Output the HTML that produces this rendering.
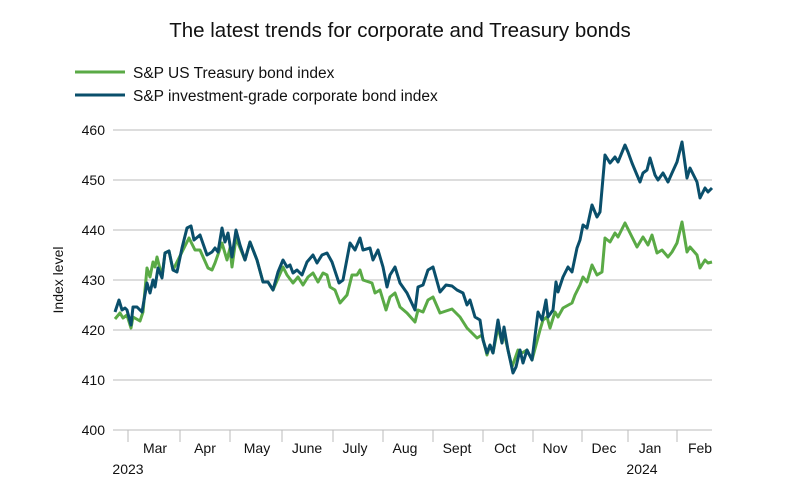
<!DOCTYPE html>
<html><head><meta charset="utf-8"><style>
body{margin:0;background:#fff;}
svg{display:block;font-family:"Liberation Sans",sans-serif;}
</style></head><body>
<svg width="800" height="495" viewBox="0 0 800 495">
<text x="400" y="37" text-anchor="middle" font-size="20.5" fill="#111">The latest trends for corporate and Treasury bonds</text>
<line x1="75" y1="72" x2="125" y2="72" stroke="#5aaa46" stroke-width="3"/>
<text x="133" y="78" font-size="15.5" fill="#111">S&amp;P US Treasury bond index</text>
<line x1="75" y1="95" x2="125" y2="95" stroke="#0a4f6b" stroke-width="3"/>
<text x="133" y="101" font-size="15.5" fill="#111">S&amp;P investment-grade corporate bond index</text>
<g stroke="#bbb" stroke-width="1">
<line x1="113" y1="130" x2="712" y2="130"/><line x1="113" y1="180" x2="712" y2="180"/>
<line x1="113" y1="230" x2="712" y2="230"/><line x1="113" y1="280" x2="712" y2="280"/>
<line x1="113" y1="330" x2="712" y2="330"/><line x1="113" y1="380" x2="712" y2="380"/>
<line x1="113" y1="430" x2="712" y2="430"/>
<line x1="128" y1="430" x2="128" y2="442"/><line x1="180" y1="430" x2="180" y2="442"/>
<line x1="230" y1="430" x2="230" y2="442"/><line x1="282" y1="430" x2="282" y2="442"/>
<line x1="333" y1="430" x2="333" y2="442"/><line x1="383" y1="430" x2="383" y2="442"/>
<line x1="433" y1="430" x2="433" y2="442"/><line x1="483" y1="430" x2="483" y2="442"/>
<line x1="533" y1="430" x2="533" y2="442"/><line x1="582" y1="430" x2="582" y2="442"/>
<line x1="628" y1="430" x2="628" y2="442"/><line x1="677" y1="430" x2="677" y2="442"/>
</g>
<g font-size="14" fill="#111" text-anchor="end">
<text x="105" y="135">460</text><text x="105" y="185">450</text><text x="105" y="235">440</text>
<text x="105" y="285">430</text><text x="105" y="335">420</text><text x="105" y="385">410</text>
<text x="105" y="435">400</text></g>
<g font-size="14" fill="#111" text-anchor="middle">
<text x="155" y="453">Mar</text><text x="205" y="453">Apr</text><text x="257" y="453">May</text>
<text x="307" y="453">June</text><text x="355" y="453">July</text><text x="405" y="453">Aug</text>
<text x="457" y="453">Sept</text><text x="505" y="453">Oct</text><text x="555" y="453">Nov</text>
<text x="604" y="453">Dec</text><text x="650" y="453">Jan</text><text x="700" y="453">Feb</text>
<text x="128" y="474">2023</text><text x="642" y="474">2024</text></g>
<text transform="translate(63,280) rotate(-90)" font-size="14" text-anchor="middle" fill="#111">Index level</text>
<polyline fill="none" stroke="#5aaa46" stroke-width="3" stroke-linejoin="round" points="115,319 120,313 123,318 127,315 131,328 133,317 140,321 143,312 147,268 150,277 153,262 155,267 157,257 162,277 165,253 169,251 173,270 182,252 189,238 195,250 200,250 208,268 212,270 215,263 222,243 227,260 230,248 232,267 236,238 245,260 250,242 257,260 263,282 268,282 273,290 283,267 287,275 293,283 298,277 303,285 308,277 313,273 318,282 323,273 327,275 330,287 335,290 340,303 347,295 352,275 357,275 360,270 363,280 372,283 375,293 380,290 386,310 390,297 395,293 400,307 407,313 415,322 418,310 423,312 428,300 433,297 440,313 452,309 460,317 467,328 472,333 477,338 482,335 487,355 490,345 493,353 498,327 502,343 504,333 512,367 518,350 522,353 527,350 532,360 540,330 543,320 547,317 550,328 555,312 558,317 563,308 572,303 575,295 580,285 583,277 587,282 592,265 597,275 602,272 605,238 610,242 615,233 618,237 625,223 630,233 637,247 643,237 648,245 652,235 657,253 662,250 668,257 672,252 677,243 682,222 687,252 690,247 697,255 700,268 705,260 708,263 712,262"/>
<polyline fill="none" stroke="#0a4f6b" stroke-width="3" stroke-linejoin="round" points="115,312 119,300 122,310 125,308 127,310 131,325 133,307 137,307 142,312 147,283 150,293 153,280 155,287 158,268 162,278 165,253 169,251 173,270 177,272 182,248 187,228 191,226 194,240 200,235 207,255 212,252 215,248 218,252 222,228 225,242 228,233 232,257 236,230 240,245 245,260 250,242 257,260 263,282 268,282 273,290 278,272 283,260 287,267 290,265 293,273 297,270 302,275 307,262 313,255 317,263 322,255 327,253 332,262 339,283 343,280 350,243 355,250 360,238 363,250 370,248 373,260 378,250 383,267 387,287 390,275 395,267 400,283 407,293 415,310 418,287 423,285 428,270 433,267 440,292 446,285 452,286 457,290 463,293 467,305 470,300 475,317 480,320 483,340 487,353 490,345 493,353 498,320 502,343 504,327 508,350 513,373 516,367 520,350 523,363 527,350 532,360 538,312 542,320 546,300 548,317 553,310 556,282 558,292 563,277 568,267 572,272 577,248 580,240 583,225 587,228 592,205 597,217 600,212 605,155 610,163 615,157 618,162 625,145 628,152 632,163 637,175 640,182 643,173 647,170 650,158 655,175 658,180 663,173 668,182 672,173 677,162 682,142 687,178 690,168 697,182 700,198 705,188 708,192 712,188"/>
</svg>
</body></html>
